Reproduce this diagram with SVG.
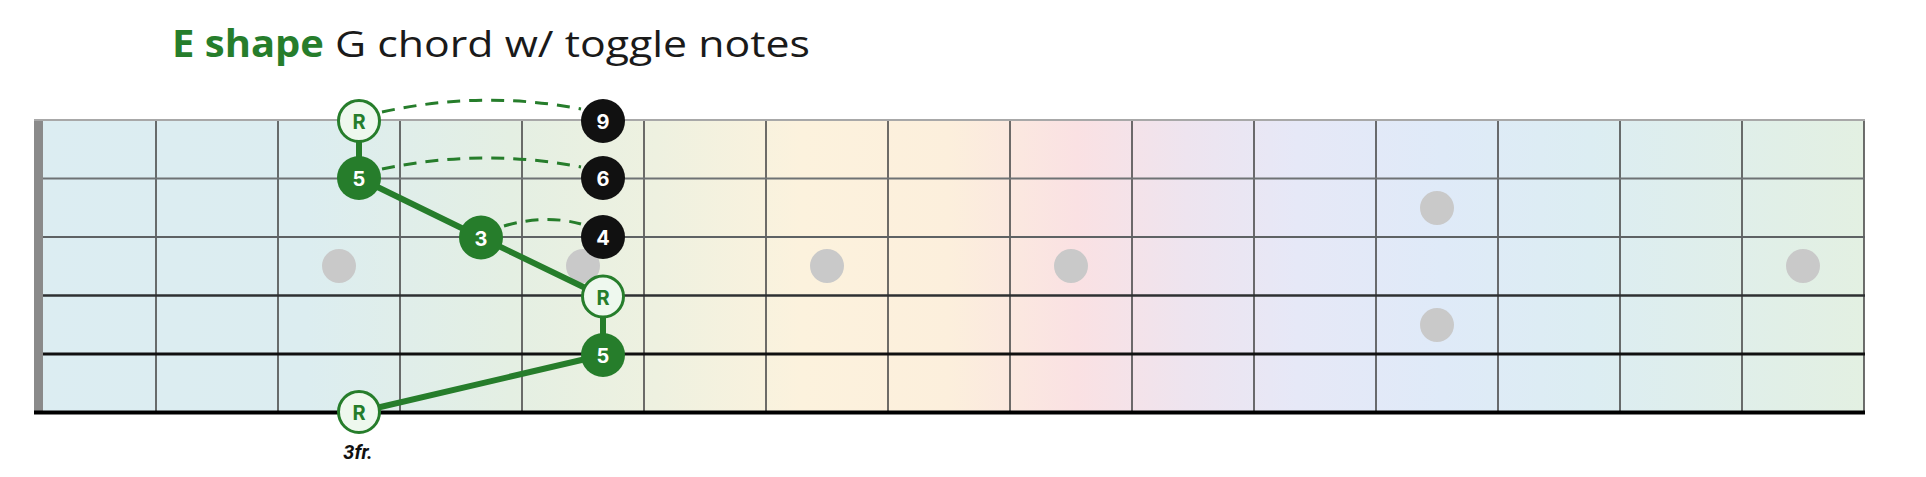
<svg xmlns="http://www.w3.org/2000/svg" width="1926" height="477" viewBox="0 0 1926 477">
<style>
.title{font-family:"Open Sans",Inter,"Liberation Sans",sans-serif;font-size:37px}
.fret{stroke:#4a4a4a;stroke-width:1.6}
.dot{fill:#c9c9c9}
.link{stroke:#267d2b;stroke-width:6;fill:none;stroke-linecap:round}
.toggle{stroke:#267d2b;stroke-width:3;fill:none;stroke-dasharray:13 9}
.root{fill:#eef8ee;stroke:#267d2b;stroke-width:3}
.fill{fill:#267d2b}
.blk{fill:#111}
.nl{font-family:Inter,"Liberation Sans",sans-serif;font-weight:700;font-size:20px;text-anchor:middle;dominant-baseline:central}
</style>
<defs>
<linearGradient id="bg" gradientUnits="userSpaceOnUse" x1="34" y1="0" x2="1864" y2="0">
<stop offset="0" stop-color="#dcedf2"/>
<stop offset="0.15" stop-color="#dcedf0"/>
<stop offset="0.26" stop-color="#e4efe3"/>
<stop offset="0.34" stop-color="#eef1e0"/>
<stop offset="0.42" stop-color="#fcf2dd"/>
<stop offset="0.5" stop-color="#fcefdc"/>
<stop offset="0.57" stop-color="#fae1e3"/>
<stop offset="0.63" stop-color="#eee4ef"/>
<stop offset="0.69" stop-color="#e6e8f7"/>
<stop offset="0.77" stop-color="#dfeaf8"/>
<stop offset="0.85" stop-color="#dcedf2"/>
<stop offset="1" stop-color="#e3f0e2"/>
</linearGradient>
</defs>
<rect width="1926" height="477" fill="#ffffff"/>
<text class="title" x="172" y="57" font-weight="700" fill="#267d2b" textLength="152" lengthAdjust="spacingAndGlyphs">E shape</text>
<text class="title" x="335" y="57" fill="#1a1a1a" textLength="475" lengthAdjust="spacingAndGlyphs">G chord w/ toggle notes</text>
<g id="fretboard">
<rect x="34" y="120" width="1830" height="293" fill="url(#bg)"/>
<rect x="34" y="119" width="9" height="295" fill="#8a8a8a"/>
<g class="fret">
<line x1="156" y1="120" x2="156" y2="412"/><line x1="278" y1="120" x2="278" y2="412"/><line x1="400" y1="120" x2="400" y2="412"/><line x1="522" y1="120" x2="522" y2="412"/><line x1="644" y1="120" x2="644" y2="412"/><line x1="766" y1="120" x2="766" y2="412"/><line x1="888" y1="120" x2="888" y2="412"/><line x1="1010" y1="120" x2="1010" y2="412"/><line x1="1132" y1="120" x2="1132" y2="412"/><line x1="1254" y1="120" x2="1254" y2="412"/><line x1="1376" y1="120" x2="1376" y2="412"/><line x1="1498" y1="120" x2="1498" y2="412"/><line x1="1620" y1="120" x2="1620" y2="412"/><line x1="1742" y1="120" x2="1742" y2="412"/><line x1="1864" y1="120" x2="1864" y2="412"/>
</g>
<line x1="34" y1="120" x2="1865" y2="120" stroke="#a8a8a8" stroke-width="2"/>
<line x1="43" y1="178.5" x2="1865" y2="178.5" stroke="#6e7274" stroke-width="2"/>
<line x1="43" y1="237" x2="1865" y2="237" stroke="#5e6264" stroke-width="2"/>
<line x1="43" y1="295.5" x2="1865" y2="295.5" stroke="#2e3032" stroke-width="2.5"/>
<line x1="43" y1="354" x2="1865" y2="354" stroke="#101010" stroke-width="3"/>
<line x1="34" y1="412.5" x2="1865" y2="412.5" stroke="#000" stroke-width="4"/>
<circle class="dot" cx="339" cy="266" r="17"/>
<circle class="dot" cx="583" cy="266" r="17"/>
<circle class="dot" cx="827" cy="266" r="17"/>
<circle class="dot" cx="1071" cy="266" r="17"/>
<circle class="dot" cx="1437" cy="208" r="17"/>
<circle class="dot" cx="1437" cy="325" r="17"/>
<circle class="dot" cx="1803" cy="266" r="17"/>
</g>
<g id="connectors">
<line class="link" x1="359" y1="121" x2="359" y2="178"/>
<line class="link" x1="359" y1="178" x2="481" y2="237.5"/>
<line class="link" x1="481" y1="237.5" x2="603" y2="296.5"/>
<line class="link" x1="603" y1="296.5" x2="603" y2="355"/>
<line class="link" x1="603" y1="355" x2="359" y2="412"/>
<path class="toggle" d="M382,112 Q482,90 581,109"/>
<path class="toggle" d="M382,169 Q482,148 581,167"/>
<path class="toggle" d="M504,226 Q545,214 581,224"/>
</g>
<g id="n-r1"><circle class="root" cx="359" cy="121" r="20.5"/><text class="nl" x="359" y="122" fill="#267d2b">R</text></g>
<g id="n-51"><circle class="fill" cx="359" cy="178" r="22"/><text class="nl" x="359" y="179" fill="#ffffff">5</text></g>
<g id="n-3"><circle class="fill" cx="481" cy="237.5" r="22"/><text class="nl" x="481" y="238.5" fill="#ffffff">3</text></g>
<g id="n-r2"><circle class="root" cx="603" cy="296.5" r="20.5"/><text class="nl" x="603" y="297.5" fill="#267d2b">R</text></g>
<g id="n-52"><circle class="fill" cx="603" cy="355" r="22"/><text class="nl" x="603" y="356" fill="#ffffff">5</text></g>
<g id="n-r3"><circle class="root" cx="359" cy="412" r="20.5"/><text class="nl" x="359" y="413" fill="#267d2b">R</text></g>
<g id="n-9"><circle class="blk" cx="603" cy="121" r="22"/><text class="nl" x="603" y="122" fill="#ffffff">9</text></g>
<g id="n-6"><circle class="blk" cx="603" cy="178" r="22"/><text class="nl" x="603" y="179" fill="#ffffff">6</text></g>
<g id="n-4"><circle class="blk" cx="603" cy="237" r="22"/><text class="nl" x="603" y="238" fill="#ffffff">4</text></g>
<text x="358" y="459" font-family="Roboto,'Liberation Sans',sans-serif" font-size="20" font-weight="700" font-style="italic" text-anchor="middle" fill="#111">3fr.</text>
</svg>
